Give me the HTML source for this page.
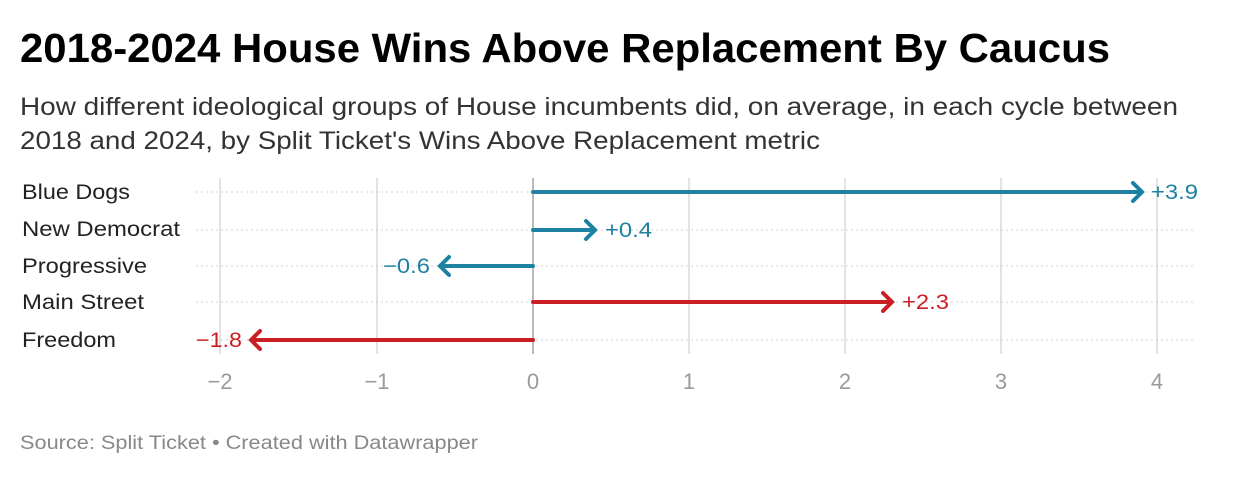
<!DOCTYPE html>
<html><head><meta charset="utf-8"><style>
body{margin:0;background:#fff;width:1240px;height:476px;overflow:hidden;font-family:"Liberation Sans",sans-serif}
</style></head><body>
<svg width="1240" height="476" xmlns="http://www.w3.org/2000/svg" font-family="Liberation Sans, sans-serif">
<text x="20" y="62" font-size="41" font-weight="bold" fill="#000" textLength="1090" lengthAdjust="spacingAndGlyphs">2018-2024 House Wins Above Replacement By Caucus</text>
<text x="20" y="115" font-size="25" fill="#333" textLength="1158" lengthAdjust="spacingAndGlyphs">How different ideological groups of House incumbents did, on average, in each cycle between</text>
<text x="20" y="149" font-size="25" fill="#333" textLength="800" lengthAdjust="spacingAndGlyphs">2018 and 2024, by Split Ticket's Wins Above Replacement metric</text>
<g stroke="#e2e2e2" stroke-width="2">
<line x1="220" y1="178" x2="220" y2="354"/><line x1="377" y1="178" x2="377" y2="354"/>
<line x1="689" y1="178" x2="689" y2="354"/><line x1="845" y1="178" x2="845" y2="354"/>
<line x1="1001" y1="178" x2="1001" y2="354"/><line x1="1157" y1="178" x2="1157" y2="354"/>
</g>
<g stroke="#d0d0d0" stroke-width="1" stroke-dasharray="2,3">
<line x1="196" y1="192" x2="1196" y2="192"/><line x1="196" y1="230" x2="1196" y2="230"/>
<line x1="196" y1="266" x2="1196" y2="266"/><line x1="196" y1="302" x2="1196" y2="302"/>
<line x1="196" y1="340" x2="1196" y2="340"/>
</g>
<line x1="533" y1="178" x2="533" y2="354" stroke="#bbb" stroke-width="2"/>
<g font-size="21" fill="#222" lengthAdjust="spacingAndGlyphs">
<text x="22" y="199" textLength="108" lengthAdjust="spacingAndGlyphs">Blue Dogs</text>
<text x="22" y="236" textLength="158" lengthAdjust="spacingAndGlyphs">New Democrat</text>
<text x="22" y="273" textLength="125" lengthAdjust="spacingAndGlyphs">Progressive</text>
<text x="22" y="309" textLength="122" lengthAdjust="spacingAndGlyphs">Main Street</text>
<text x="22" y="347" textLength="94" lengthAdjust="spacingAndGlyphs">Freedom</text>
</g>
<g fill="none" stroke-width="4" stroke-linecap="round">
<g stroke="#1d81a2">
<line x1="533" y1="192" x2="1141" y2="192"/><polyline points="1133,183 1142,192 1133,201"/>
<line x1="533" y1="230" x2="594" y2="230"/><polyline points="586,221 595,230 586,239"/>
<line x1="533" y1="266" x2="441" y2="266"/><polyline points="449,257 440,266 449,275"/>
</g>
<g stroke="#c91f25">
<line x1="533" y1="302" x2="891" y2="302"/><polyline points="883,293 892,302 883,311"/>
<line x1="533" y1="340" x2="252" y2="340"/><polyline points="260,331 251,340 260,349"/>
</g>
</g>
<g font-size="21">
<text x="1151" y="199" fill="#1d81a2" textLength="47" lengthAdjust="spacingAndGlyphs">+3.9</text>
<text x="605" y="237" fill="#1d81a2" textLength="47" lengthAdjust="spacingAndGlyphs">+0.4</text>
<text x="383" y="273" fill="#1d81a2" textLength="47" lengthAdjust="spacingAndGlyphs">−0.6</text>
<text x="902" y="309" fill="#c91f25" textLength="47" lengthAdjust="spacingAndGlyphs">+2.3</text>
<text x="196" y="347" fill="#c91f25" textLength="46" lengthAdjust="spacingAndGlyphs">−1.8</text>
</g>
<g font-size="22" fill="#9a9a9a" text-anchor="middle">
<text x="220" y="389">−2</text><text x="377" y="389">−1</text><text x="533" y="389">0</text>
<text x="689" y="389">1</text><text x="845" y="389">2</text><text x="1001" y="389">3</text><text x="1157" y="389">4</text>
</g>
<text x="20" y="449" font-size="19" fill="#888" textLength="458" lengthAdjust="spacingAndGlyphs">Source: Split Ticket • Created with Datawrapper</text>
</svg>
</body></html>
